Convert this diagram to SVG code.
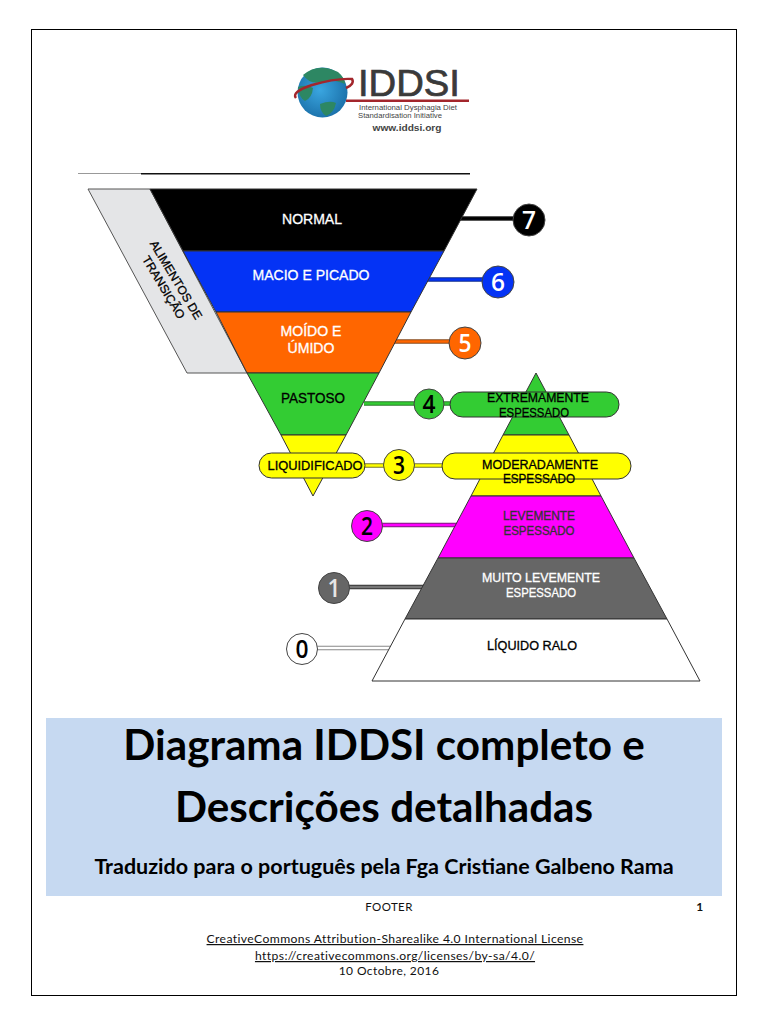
<svg xmlns="http://www.w3.org/2000/svg" width="768" height="1024" viewBox="0 0 768 1024">
<style>
text{font-family:"Liberation Sans","Open Sans",sans-serif;text-anchor:middle}
.l{font-size:14px;fill:#000;stroke:#000;stroke-width:.3}
.w{font-size:14px;fill:#fff;stroke:#fff;stroke-width:.3}
.s{font-size:12.500px}
.n{font-family:"Open Sans",sans-serif;font-size:26px;font-weight:600;fill:#000}
.nw{font-family:"Open Sans",sans-serif;font-size:26px;font-weight:600;fill:#fff}
.t{font-family:Lato,"Liberation Sans",sans-serif;font-weight:700;fill:#000}
.f{font-family:Lato,"Liberation Sans",sans-serif;font-size:12.150px;fill:#111;letter-spacing:.4px}
.lg{font-family:"Liberation Sans",sans-serif;fill:#444}
.e{stroke:#333;stroke-width:1}
.c{stroke:#444;stroke-width:1}
</style>
<defs>
<radialGradient id="sea" cx="45%" cy="45%" r="60%"><stop offset="0" stop-color="#3aa6e0"/><stop offset="1" stop-color="#1a6fa8"/></radialGradient>
</defs>
<rect x="31.500" y="29.500" width="705" height="966" fill="#fff" stroke="#000" stroke-width="1"/>
<g id="logo">
<circle cx="322.500" cy="92.500" r="25" fill="url(#sea)"/>
<path d="M303 75Q318 62 338 72Q345 78 345 84Q332 78 322 82Q310 85 303 75Z" fill="#2d8763"/>
<path d="M298 87Q306 84 313 88Q312 98 305 101Q299 98 298 87Z" fill="#2d8763"/>
<path d="M320 104Q330 100 336 103Q334 113 326 116Q320 112 320 104Z" fill="#2d8763"/>
<path d="M296 98Q291 92 312 85Q336 78 352 79Q355 84 346 88" fill="none" stroke="#a3262c" stroke-width="2.500"/>
<rect x="346" y="99.500" width="123" height="2.500" fill="#a3262c"/>
<text class="lg" x="409" y="96" style="font-size:37px;stroke:#3a3a3a;stroke-width:.7;fill:#3a3a3a" textLength="102" lengthAdjust="spacingAndGlyphs">IDDSI</text>
<text class="lg" x="408" y="110" style="font-size:6.500px" textLength="98" lengthAdjust="spacingAndGlyphs">International Dysphagia Diet</text>
<text class="lg" x="400" y="117.500" style="font-size:6.500px" textLength="84" lengthAdjust="spacingAndGlyphs">Standardisation Initiative</text>
<text class="lg" x="407" y="131" style="font-size:9.500px;font-weight:700" textLength="69" lengthAdjust="spacingAndGlyphs">www.iddsi.org</text>
</g>
<g id="rule">
<rect x="78" y="173" width="64" height="1" fill="#999"/>
<rect x="141" y="173" width="329" height="1.500" fill="#111"/>
</g>
<g id="connectors" fill="none">
<g stroke-width="4.500">
<path d="M460 218.500H515" stroke="#222"/>
<path d="M427 279.500H484" stroke="#0b2a90"/>
<path d="M393 341.500H451" stroke="#8a4a1a"/>
<path d="M364 403.500H416M440 403.500H454" stroke="#2a7a2a"/>
<path d="M363 465.500H385M413 465.500H444" stroke="#7a7a20"/>
<path d="M380 525H458" stroke="#7a207a"/>
<path d="M348 587H424" stroke="#333"/>
<path d="M316 648H391" stroke="#888"/>
</g>
<g stroke-width="2.500">
<path d="M460 218.500H515" stroke="#000"/>
<path d="M427 279.500H484" stroke="#0433f5"/>
<path d="M393 341.500H451" stroke="#ff6600"/>
<path d="M364 403.500H416M440 403.500H454" stroke="#33cc33"/>
<path d="M363 465.500H385M413 465.500H444" stroke="#ffff00"/>
<path d="M380 525H458" stroke="#ff00ff"/>
<path d="M348 587H424" stroke="#777"/>
<path d="M316 648H391" stroke="#fff"/>
</g>
</g>
<g id="transition">
<polygon points="88,189 150,189 247,373 187,373" fill="#e4e5e7" stroke="#555" stroke-width="1"/>
<g transform="translate(170,283.500) rotate(59)">
<text class="l" x="0" y="-3" style="font-size:12px" textLength="90" lengthAdjust="spacingAndGlyphs">ALIMENTOS DE</text>
<text class="l" x="0" y="11.500" style="font-size:12px" textLength="71" lengthAdjust="spacingAndGlyphs">TRANSIÇÃO</text>
</g>
</g>
<g id="normal"><polygon class="e" points="150,189 477,189 444,251 183,251" fill="#000"/><text class="w" x="312" y="224" textLength="60" lengthAdjust="spacingAndGlyphs">NORMAL</text></g>
<g id="macio"><polygon class="e" points="183,251 444,251 411,312 216,312" fill="#0433f5"/><text class="w" x="311" y="280" textLength="117" lengthAdjust="spacingAndGlyphs">MACIO E PICADO</text></g>
<g id="moido"><polygon class="e" points="216,312 411,312 379,373 247,373" fill="#ff6600"/><text class="w" x="311" y="336" textLength="61" lengthAdjust="spacingAndGlyphs">MOÍDO E</text><text class="w" x="311" y="353" textLength="47" lengthAdjust="spacingAndGlyphs">ÚMIDO</text></g>
<g id="pastoso"><polygon class="e" points="247,373 379,373 346,435 281,435" fill="#33cc33"/><text class="l" x="313" y="403" textLength="64" lengthAdjust="spacingAndGlyphs">PASTOSO</text></g>
<g id="liquidificado"><polygon class="e" points="281,435 346,435 313,496" fill="#ffff00"/><rect class="e" x="259" y="453" width="106" height="25" rx="12.500" fill="#ffff00"/><text class="l s" x="315" y="470" textLength="95" lengthAdjust="spacingAndGlyphs">LIQUIDIFICADO</text></g>
<g id="n7"><circle class="c" cx="529" cy="220" r="16" fill="#000"/><text class="nw" x="529" y="229" textLength="14" lengthAdjust="spacingAndGlyphs">7</text></g>
<g id="n6"><circle class="c" cx="498" cy="282" r="16" fill="#0433f5"/><text class="nw" x="498" y="291" textLength="14" lengthAdjust="spacingAndGlyphs">6</text></g>
<g id="n5"><circle class="c" cx="465" cy="343" r="16" fill="#ff6600"/><text class="nw" x="465" y="352" textLength="13" lengthAdjust="spacingAndGlyphs">5</text></g>
<g id="n4"><circle class="c" cx="429" cy="404" r="15" fill="#33cc33"/><text class="n" x="429" y="413" textLength="13" lengthAdjust="spacingAndGlyphs">4</text></g>
<g id="n3"><circle class="c" cx="399" cy="465" r="15.500" fill="#ffff00"/><text class="n" x="399" y="474" textLength="12" lengthAdjust="spacingAndGlyphs">3</text></g>
<g id="n2"><circle class="c" cx="367" cy="526" r="15.500" fill="#ff00ff"/><text class="n" x="367" y="535" textLength="12" lengthAdjust="spacingAndGlyphs">2</text></g>
<g id="n1"><circle class="c" cx="334" cy="588" r="15.500" fill="#666"/><text class="nw" x="334" y="597" textLength="13" lengthAdjust="spacingAndGlyphs" style="fill:#e6e6e6">1</text></g>
<g id="n0"><circle class="c" cx="302" cy="649" r="15.500" fill="#fff"/><text class="n" x="302" y="658" textLength="13" lengthAdjust="spacingAndGlyphs">0</text></g>
<g id="extremamente"><polygon class="e" points="536,373 569,435 503,435" fill="#33cc33"/><rect class="e" x="450" y="392" width="169" height="25" rx="12.500" fill="#33cc33"/><text class="l s" x="538" y="402" textLength="102" lengthAdjust="spacingAndGlyphs">EXTREMAMENTE</text><text class="l s" x="534" y="417" textLength="70" lengthAdjust="spacingAndGlyphs">ESPESSADO</text></g>
<g id="moderadamente"><polygon class="e" points="503,435 569,435 601,496 471,496" fill="#ffff00"/><rect class="e" x="442" y="453" width="189" height="26" rx="13" fill="#ffff00"/><text class="l s" x="540" y="468.500" textLength="116" lengthAdjust="spacingAndGlyphs">MODERADAMENTE</text><text class="l s" x="539" y="483" textLength="72" lengthAdjust="spacingAndGlyphs">ESPESSADO</text></g>
<g id="levemente"><polygon class="e" points="471,496 601,496 634,558 438,558" fill="#ff00ff"/><text class="l s" x="539" y="520" style="fill:#333;stroke:#333" textLength="72" lengthAdjust="spacingAndGlyphs">LEVEMENTE</text><text class="l s" x="539" y="534.500" style="fill:#333;stroke:#333" textLength="71" lengthAdjust="spacingAndGlyphs">ESPESSADO</text></g>
<g id="muito"><polygon class="e" points="438,558 634,558 667,619 405,619" fill="#666"/><text class="w s" x="541" y="582" textLength="118" lengthAdjust="spacingAndGlyphs">MUITO LEVEMENTE</text><text class="w s" x="541" y="597" textLength="70" lengthAdjust="spacingAndGlyphs">ESPESSADO</text></g>
<g id="liquido"><polygon class="e" points="405,619 667,619 700,681 372,681" fill="#fff"/><text class="l s" x="532" y="650" textLength="90" lengthAdjust="spacingAndGlyphs">LÍQUIDO RALO</text></g>
<g id="title">
<rect x="46" y="718" width="676" height="178" fill="#c6d9f1"/>
<text class="t" x="384" y="760" style="font-size:42.200px">Diagrama IDDSI completo e</text>
<text class="t" x="384" y="822" style="font-size:42.200px">Descrições detalhadas</text>
<text class="t" x="384" y="874" style="font-size:21.500px">Traduzido para o português pela Fga Cristiane Galbeno Rama</text>
</g>
<g id="footer">
<text class="f" x="389" y="911" style="font-size:11.500px">FOOTER</text>
<text class="f" x="700" y="911" style="font-weight:700;font-size:12px">1</text>
<text class="f" x="395" y="943" text-decoration="underline">CreativeCommons Attribution-Sharealike 4.0 International License</text>
<text class="f" x="395" y="960" text-decoration="underline">https://creativecommons.org/licenses/by-sa/4.0/</text>
<text class="f" x="389" y="975" style="font-size:12px">10 Octobre, 2016</text>
</g>
</svg>
